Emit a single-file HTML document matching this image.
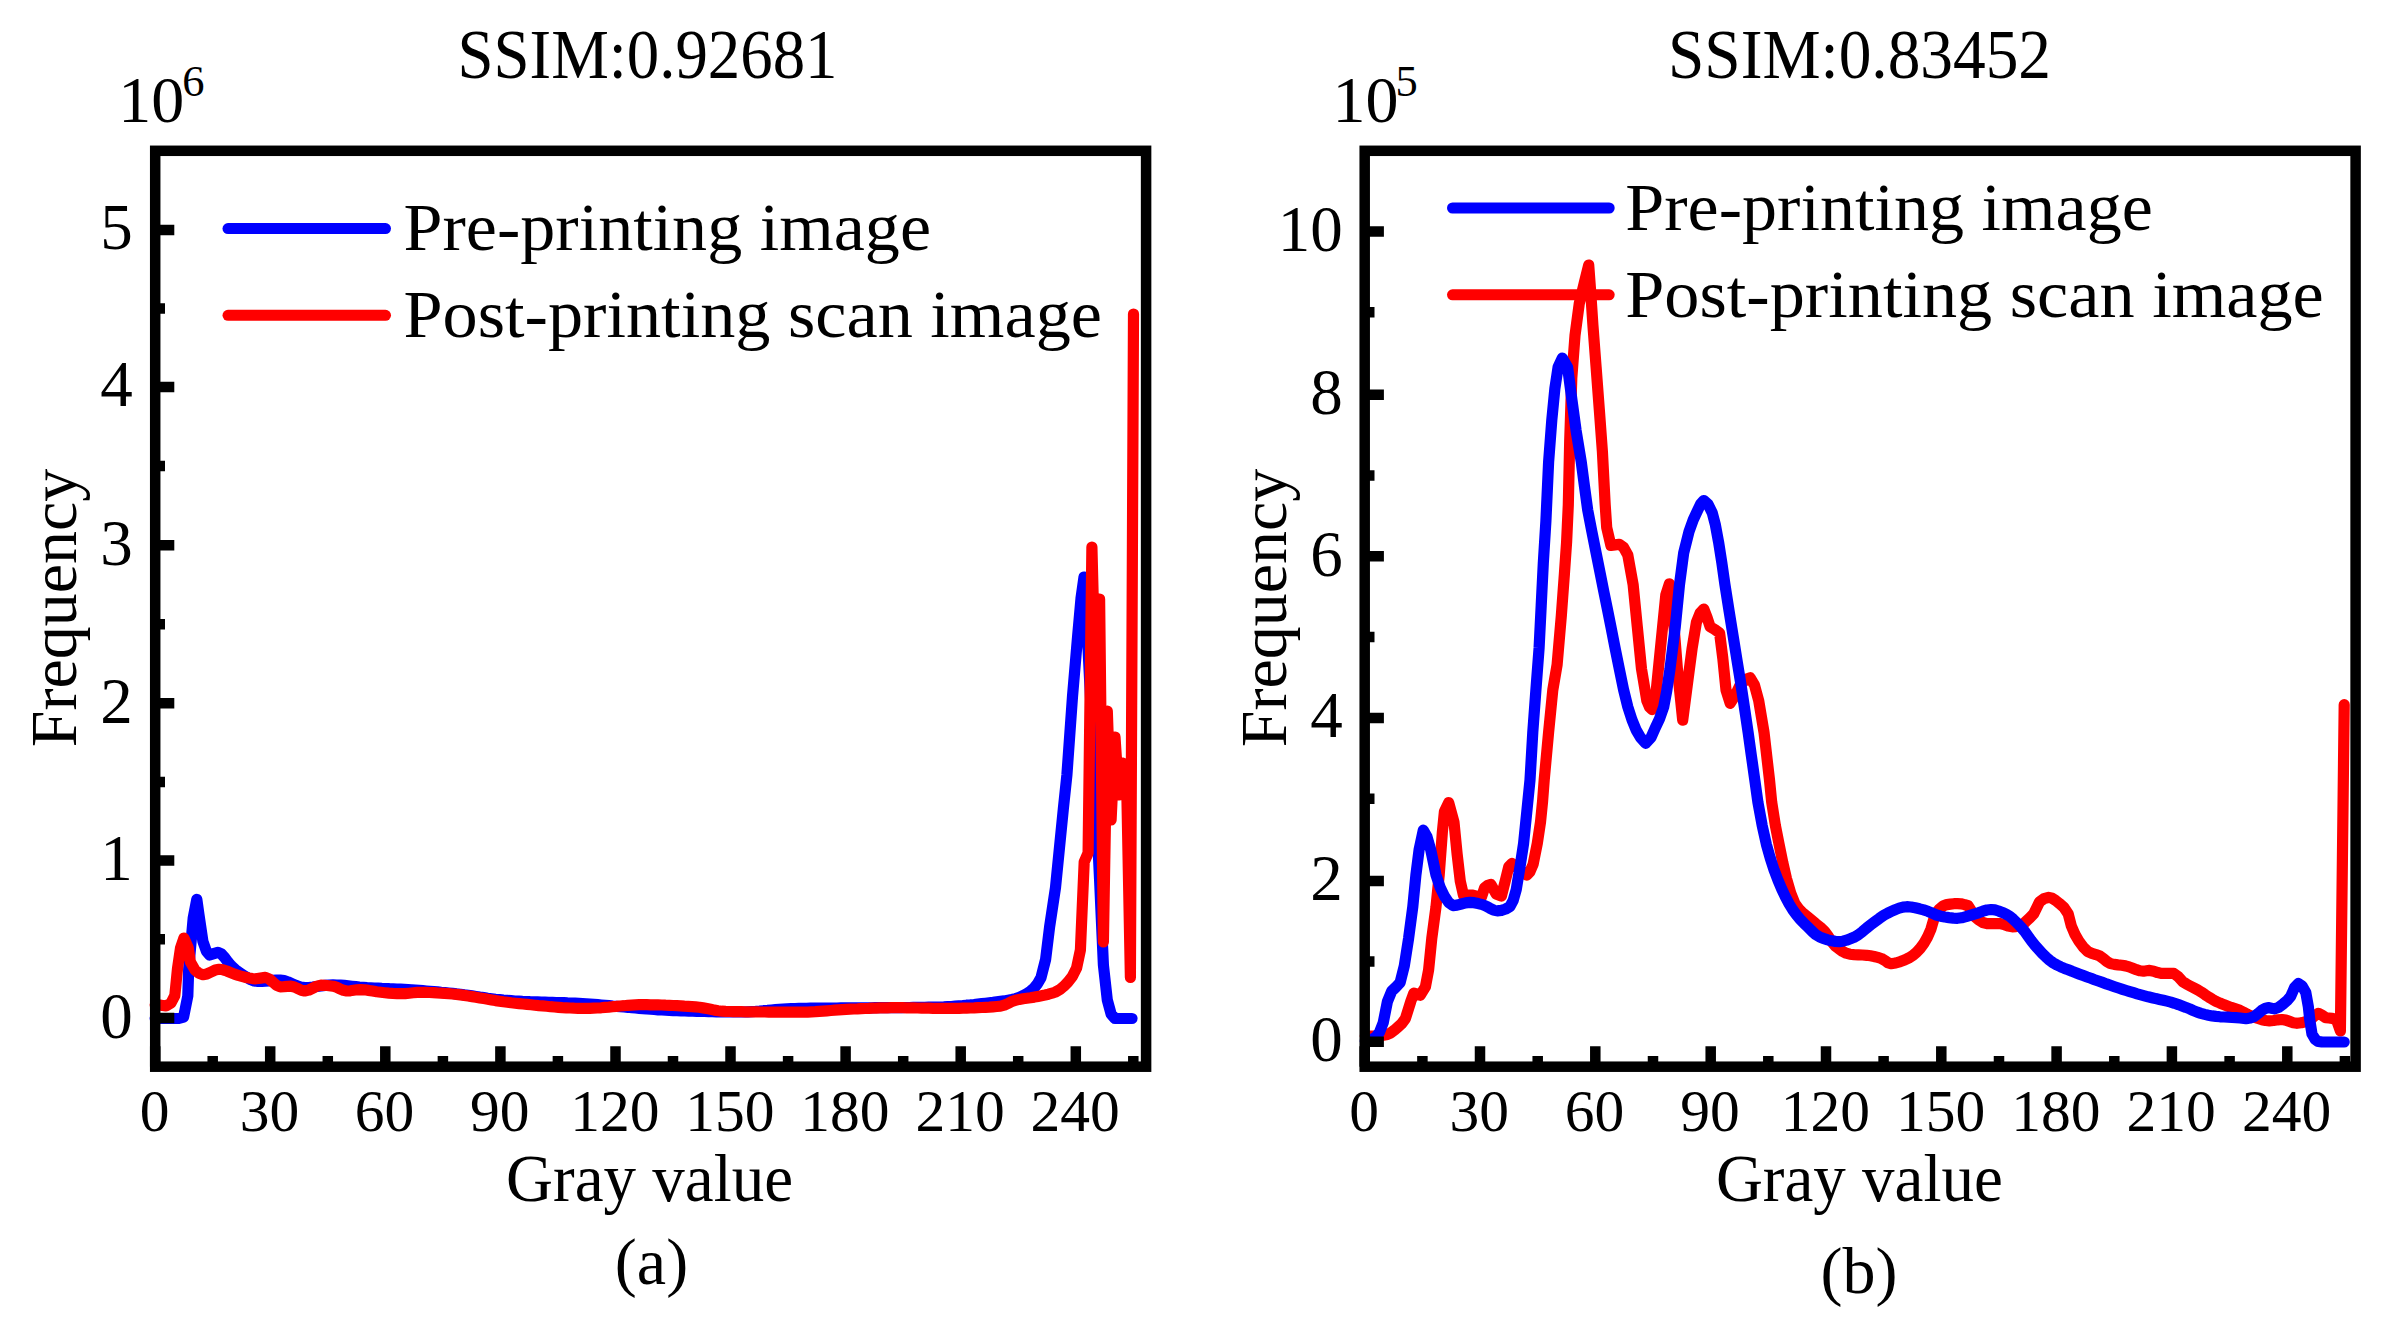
<!DOCTYPE html>
<html lang="en"><head><meta charset="utf-8"><title>SSIM histogram comparison</title>
<style>html,body{margin:0;padding:0;background:#fff}body{width:2394px;height:1326px;overflow:hidden}svg{display:block}</style>
</head><body>
<svg width="2394" height="1326" viewBox="0 0 2394 1326" font-family='"Liberation Serif", "Times New Roman", Times, serif' fill="#000">
<rect width="2394" height="1326" fill="#fff"/>
<g id="plotA">
<polyline points="155.2,1018.5 159.0,1018.5 162.8,1018.5 166.6,1018.5 170.4,1018.5 174.2,1018.5 178.0,1018.5 183.6,1017.0 187.8,996.0 188.7,968.6 193.2,918.0 196.8,899.4 198.9,914.3 202.9,941.4 206.3,951.0 209.7,955.0 213.8,953.6 217.9,952.3 221.3,953.9 224.7,957.6 228.0,962.1 231.4,965.9 235.5,969.6 239.6,972.7 243.3,975.1 247.0,977.5 250.6,979.5 254.3,981.0 258.0,981.5 261.7,981.4 265.3,981.1 269.0,980.8 272.7,980.4 276.3,980.1 280.0,980.0 284.1,980.6 288.2,982.0 292.4,983.8 296.5,985.6 300.6,987.0 304.7,987.6 308.7,987.5 312.8,987.1 316.8,986.5 320.9,986.0 324.9,985.4 329.0,985.0 333.0,984.9 336.8,985.0 340.6,985.2 344.3,985.4 348.1,985.8 351.9,986.2 355.7,986.6 359.4,987.0 363.2,987.3 367.0,987.6 370.7,987.8 374.5,988.0 378.2,988.2 381.9,988.4 385.6,988.5 389.4,988.7 393.1,988.8 396.8,989.0 400.5,989.2 404.3,989.4 408.0,989.6 411.7,989.8 415.4,990.1 419.1,990.4 422.8,990.7 426.5,991.0 430.1,991.3 433.8,991.6 437.5,991.9 441.2,992.3 444.9,992.6 448.6,993.0 452.5,993.4 456.4,993.9 460.3,994.3 464.2,994.9 468.1,995.4 472.0,995.9 475.9,996.5 479.8,997.1 483.8,997.6 487.7,998.2 491.6,998.7 495.5,999.2 499.4,999.6 503.3,1000.1 507.2,1000.4 511.1,1000.7 515.0,1001.0 518.8,1001.2 522.5,1001.4 526.2,1001.5 530.0,1001.7 533.8,1001.8 537.5,1001.9 541.2,1002.1 545.0,1002.2 548.8,1002.3 552.5,1002.4 556.2,1002.5 560.0,1002.6 563.8,1002.7 567.5,1002.9 571.2,1003.0 575.0,1003.2 578.8,1003.4 582.6,1003.6 586.3,1003.8 590.1,1004.1 593.9,1004.4 597.7,1004.7 601.4,1005.0 605.2,1005.3 609.0,1005.6 612.8,1006.0 616.6,1006.3 620.3,1006.6 624.1,1007.0 627.9,1007.3 631.7,1007.7 635.4,1008.0 639.2,1008.3 643.0,1008.6 646.8,1009.0 650.6,1009.2 654.3,1009.5 658.1,1009.8 661.9,1010.0 665.7,1010.2 669.4,1010.4 673.2,1010.6 677.0,1010.7 680.9,1010.8 684.9,1010.9 688.8,1011.1 692.8,1011.2 696.7,1011.3 700.6,1011.4 704.6,1011.5 708.5,1011.6 712.4,1011.7 716.4,1011.8 720.3,1011.8 724.2,1011.9 728.2,1011.9 732.1,1012.0 736.1,1012.0 740.0,1012.0 743.9,1012.0 747.9,1011.8 751.8,1011.6 755.7,1011.4 759.6,1011.1 763.6,1010.7 767.5,1010.4 771.4,1010.0 775.4,1009.7 779.3,1009.4 783.2,1009.1 787.1,1008.8 791.1,1008.6 795.0,1008.5 798.8,1008.4 802.6,1008.4 806.4,1008.3 810.3,1008.2 814.1,1008.2 817.9,1008.1 821.7,1008.1 825.5,1008.1 829.3,1008.0 833.2,1008.0 837.0,1008.0 840.8,1007.9 844.6,1007.9 848.4,1007.9 852.2,1007.9 856.1,1007.8 859.9,1007.8 863.7,1007.8 867.5,1007.8 871.3,1007.8 875.1,1007.7 878.9,1007.7 882.8,1007.7 886.6,1007.7 890.4,1007.6 894.2,1007.6 898.0,1007.6 901.8,1007.6 905.7,1007.5 909.5,1007.5 913.3,1007.4 917.1,1007.4 920.9,1007.3 924.7,1007.3 928.6,1007.2 932.4,1007.2 936.2,1007.1 940.0,1007.0 943.8,1006.9 947.6,1006.7 951.4,1006.5 955.2,1006.2 959.0,1005.9 962.8,1005.6 966.5,1005.2 970.3,1004.9 974.1,1004.5 977.9,1004.0 981.7,1003.6 985.5,1003.2 989.3,1002.8 993.0,1002.4 996.8,1001.9 1000.5,1001.4 1004.3,1000.9 1008.1,1000.2 1011.8,999.5 1015.6,998.6 1019.4,997.4 1023.1,995.7 1026.8,993.6 1030.6,991.0 1034.1,988.0 1037.5,983.7 1041.0,977.6 1045.6,959.5 1049.6,926.9 1055.5,887.6 1059.4,848.4 1063.3,809.2 1066.9,775.0 1072.5,696.5 1077.5,637.6 1081.0,598.4 1084.0,577.0 1088.1,650.0 1091.9,725.0 1095.8,800.0 1099.6,880.0 1103.4,965.0 1107.3,1000.0 1111.1,1014.0 1115.0,1018.5 1119.2,1018.5 1123.5,1018.5 1127.8,1018.5 1132.0,1018.5" fill="none" stroke="#0000ff" stroke-width="11.20" stroke-linejoin="round" stroke-linecap="round"/>
<polyline points="155.2,1005.0 160.9,1005.2 166.0,1006.0 171.0,1003.0 174.8,995.7 177.5,968.6 180.5,948.0 183.9,938.0 188.3,948.0 190.3,961.8 195.0,970.0 198.9,973.3 202.9,974.7 207.0,973.9 211.1,972.0 215.1,970.1 219.2,969.3 223.0,969.8 226.8,971.0 230.6,972.6 234.4,974.2 238.2,975.4 241.7,976.3 245.3,977.2 248.8,978.0 252.4,978.6 255.9,978.8 260.6,978.1 265.4,977.4 269.1,978.9 272.9,982.1 276.6,985.4 280.3,986.9 283.9,986.7 287.4,986.4 291.0,986.2 294.4,987.0 297.9,988.6 301.3,990.2 304.7,991.0 308.8,990.1 312.9,988.1 316.9,986.1 321.0,985.2 325.0,985.3 329.0,985.7 333.0,986.2 336.4,987.2 339.9,988.8 343.4,990.3 346.8,991.0 350.2,990.8 353.6,990.3 357.0,989.8 360.4,989.6 364.5,989.8 368.6,990.4 372.6,991.1 376.7,991.8 380.8,992.3 384.8,992.7 388.9,993.1 392.9,993.4 397.0,993.6 401.0,993.7 405.1,993.6 409.2,993.2 413.3,992.8 417.4,992.4 421.5,992.3 425.4,992.3 429.2,992.5 433.1,992.6 437.0,992.9 440.9,993.1 444.7,993.4 448.6,993.7 452.5,994.0 456.4,994.4 460.4,994.9 464.3,995.4 468.2,996.0 472.1,996.6 476.0,997.2 479.9,997.9 483.9,998.6 487.8,999.2 491.7,999.9 495.6,1000.6 499.5,1001.2 503.4,1001.8 507.4,1002.3 511.3,1002.8 515.2,1003.2 519.1,1003.6 523.1,1004.0 527.0,1004.4 530.9,1004.8 534.8,1005.2 538.8,1005.6 542.7,1005.9 546.6,1006.3 550.5,1006.7 554.5,1007.0 558.4,1007.3 562.3,1007.6 566.3,1007.8 570.2,1008.0 574.1,1008.2 578.0,1008.3 582.0,1008.4 585.9,1008.4 589.7,1008.4 593.5,1008.2 597.3,1008.0 601.1,1007.8 604.9,1007.4 608.7,1007.1 612.5,1006.7 616.4,1006.4 620.2,1006.0 624.0,1005.7 627.8,1005.3 631.6,1005.1 635.4,1004.9 639.2,1004.7 643.0,1004.7 646.8,1004.7 650.5,1004.8 654.3,1004.8 658.0,1004.9 661.8,1005.0 665.5,1005.2 669.3,1005.3 673.1,1005.5 676.8,1005.7 680.6,1005.9 684.3,1006.2 688.1,1006.4 691.8,1006.6 695.6,1006.9 699.4,1007.3 703.1,1007.9 706.9,1008.6 710.7,1009.3 714.4,1010.1 718.2,1010.7 721.9,1011.2 725.7,1011.4 729.6,1011.5 733.5,1011.6 737.4,1011.6 741.3,1011.7 745.3,1011.8 749.2,1011.8 753.1,1011.9 757.0,1011.9 760.9,1012.0 764.8,1012.0 768.7,1012.1 772.6,1012.1 776.5,1012.1 780.4,1012.1 784.4,1012.2 788.3,1012.2 792.2,1012.2 796.1,1012.2 800.0,1012.2 803.8,1012.2 807.7,1012.1 811.5,1011.9 815.4,1011.7 819.2,1011.4 823.1,1011.1 826.9,1010.8 830.8,1010.5 834.6,1010.2 838.5,1009.9 842.3,1009.6 846.2,1009.4 850.0,1009.2 853.8,1009.0 857.5,1008.9 861.2,1008.7 865.0,1008.5 868.8,1008.4 872.5,1008.2 876.2,1008.1 880.0,1007.9 883.8,1007.8 887.5,1007.8 891.2,1007.7 895.0,1007.7 898.8,1007.7 902.6,1007.7 906.4,1007.8 910.1,1007.8 913.9,1007.9 917.7,1008.0 921.5,1008.1 925.3,1008.1 929.1,1008.2 932.9,1008.3 936.6,1008.3 940.4,1008.4 944.2,1008.4 948.0,1008.4 951.8,1008.4 955.5,1008.4 959.2,1008.3 963.0,1008.2 966.8,1008.1 970.5,1008.0 974.2,1007.9 978.0,1007.7 981.8,1007.5 985.5,1007.3 989.2,1007.1 993.0,1006.8 996.8,1006.5 1000.5,1006.2 1004.3,1005.2 1008.0,1003.5 1011.8,1001.6 1015.6,1000.2 1019.3,999.4 1023.1,998.7 1026.8,998.2 1030.5,997.7 1034.3,997.1 1038.0,996.4 1041.5,995.7 1045.0,995.0 1048.5,994.2 1052.0,993.2 1055.5,992.0 1059.7,989.7 1063.8,986.3 1068.0,982.0 1072.3,976.6 1076.6,968.0 1080.4,950.0 1084.2,862.0 1088.1,853.0 1091.9,547.0 1095.8,700.0 1099.6,599.0 1103.4,942.0 1107.3,711.0 1111.1,820.0 1115.0,737.0 1118.8,795.0 1122.6,763.0 1126.5,775.0 1130.4,977.5 1133.5,314.0" fill="none" stroke="#ff0000" stroke-width="11.20" stroke-linejoin="round" stroke-linecap="round"/>
<path d="M155.2 1066.7V1046.2M270.2 1066.7V1046.2M385.3 1066.7V1046.2M500.4 1066.7V1046.2M615.5 1066.7V1046.2M730.5 1066.7V1046.2M845.6 1066.7V1046.2M960.7 1066.7V1046.2M1075.8 1066.7V1046.2M212.7 1066.7V1055.9M327.8 1066.7V1055.9M442.9 1066.7V1055.9M557.9 1066.7V1055.9M673.0 1066.7V1055.9M788.1 1066.7V1055.9M903.2 1066.7V1055.9M1018.2 1066.7V1055.9M1133.3 1066.7V1055.9M155.2 1018.1H174.3M155.2 860.5H174.3M155.2 703.3H174.3M155.2 545.3H174.3M155.2 386.9H174.3M155.2 229.9H174.3M155.2 939.3H165.0M155.2 781.9H165.0M155.2 624.3H165.0M155.2 466.1H165.0M155.2 308.4H165.0" stroke="#000" stroke-width="10.5" fill="none"/>
<rect x="155.2" y="150.8" width="990.9" height="915.9" fill="none" stroke="#000" stroke-width="10.5"/>
<path d="M228 228.6H385.5" stroke="#0000ff" stroke-width="11" stroke-linecap="round"/>
<path d="M228 315.3H385.5" stroke="#ff0000" stroke-width="11" stroke-linecap="round"/>
<text x="403.5" y="250.4" font-size="68.0" text-anchor="start" textLength="527.5" lengthAdjust="spacingAndGlyphs">Pre-printing image</text>
<text x="403.5" y="336.9" font-size="68.0" text-anchor="start" textLength="698.5" lengthAdjust="spacingAndGlyphs">Post-printing scan image</text>
<text x="647.5" y="77.5" font-size="69.0" text-anchor="middle" textLength="380" lengthAdjust="spacingAndGlyphs">SSIM:0.92681</text>
<text x="118.2" y="122.0" font-size="66.0" text-anchor="start" >10</text>
<text x="182.2" y="96.0" font-size="44.5" text-anchor="start" >6</text>
<text x="132.8" y="1037.6" font-size="65.0" text-anchor="end" >0</text>
<text x="132.8" y="880.0" font-size="65.0" text-anchor="end" >1</text>
<text x="132.8" y="722.8" font-size="65.0" text-anchor="end" >2</text>
<text x="132.8" y="564.8" font-size="65.0" text-anchor="end" >3</text>
<text x="132.8" y="406.4" font-size="65.0" text-anchor="end" >4</text>
<text x="132.8" y="249.4" font-size="65.0" text-anchor="end" >5</text>
<text x="154.5" y="1131.4" font-size="59.5" text-anchor="middle" >0</text>
<text x="269.5" y="1131.4" font-size="59.5" text-anchor="middle" >30</text>
<text x="384.6" y="1131.4" font-size="59.5" text-anchor="middle" >60</text>
<text x="499.7" y="1131.4" font-size="59.5" text-anchor="middle" >90</text>
<text x="614.8" y="1131.4" font-size="59.5" text-anchor="middle" >120</text>
<text x="729.8" y="1131.4" font-size="59.5" text-anchor="middle" >150</text>
<text x="844.9" y="1131.4" font-size="59.5" text-anchor="middle" >180</text>
<text x="960.0" y="1131.4" font-size="59.5" text-anchor="middle" >210</text>
<text x="1075.1" y="1131.4" font-size="59.5" text-anchor="middle" >240</text>
<text x="649.6" y="1200.5" font-size="68.0" text-anchor="middle" textLength="287" lengthAdjust="spacingAndGlyphs">Gray value</text>
<text x="651.5" y="1284.0" font-size="66.0" text-anchor="middle" >(a)</text>
<text transform="translate(76.2 608) rotate(-90)" font-size="66" text-anchor="middle">Frequency</text>
</g>
<g id="plotB">
<polyline points="1365.3,1036.0 1368.5,1036.0 1371.8,1036.0 1375.0,1036.0 1379.1,1035.8 1383.3,1035.2 1387.4,1034.4 1390.9,1032.8 1394.5,1030.1 1398.0,1027.0 1401.7,1023.6 1405.4,1018.6 1410.7,1001.7 1413.8,993.2 1417.0,994.2 1420.2,995.3 1425.4,986.9 1428.6,970.0 1431.8,938.3 1436.0,906.7 1439.2,875.0 1442.3,832.8 1444.4,811.7 1448.7,802.6 1454.0,822.2 1457.1,853.9 1460.3,881.3 1463.4,895.0 1467.7,895.0 1471.9,895.0 1476.7,896.1 1481.4,897.2 1484.6,887.7 1487.8,885.4 1490.9,884.5 1496.2,894.0 1501.4,896.1 1505.7,879.2 1508.8,866.6 1512.0,863.4 1516.0,865.9 1520.0,870.0 1523.4,873.2 1526.8,875.0 1529.9,871.8 1533.1,864.4 1537.3,843.3 1540.5,822.2 1542.6,801.1 1544.2,780.0 1548.6,732.2 1552.8,690.0 1557.1,664.7 1561.3,616.1 1564.4,573.9 1566.6,542.2 1568.3,505.0 1569.7,441.1 1571.8,377.8 1575.0,335.6 1579.2,303.9 1584.0,284.0 1588.7,265.0 1590.8,293.3 1592.9,325.0 1596.1,367.2 1599.3,409.5 1602.4,451.7 1605.2,505.0 1606.7,527.4 1610.9,545.4 1615.1,544.9 1619.3,544.3 1623.5,547.3 1627.8,554.9 1633.1,584.4 1637.3,626.7 1641.5,668.9 1646.8,700.6 1649.5,707.0 1652.1,709.6 1655.0,703.0 1658.4,668.9 1662.6,626.7 1665.8,595.0 1669.4,583.8 1673.5,620.0 1677.4,668.9 1682.7,720.2 1688.0,679.5 1692.2,647.8 1696.4,622.4 1700.1,613.1 1703.8,609.1 1706.9,617.0 1710.1,626.7 1714.8,629.5 1719.6,633.0 1722.8,658.3 1726.0,690.0 1730.2,703.3 1735.0,695.8 1739.7,685.8 1743.2,682.0 1746.7,679.0 1750.2,677.8 1754.5,685.1 1758.7,700.6 1764.0,732.2 1769.5,780.0 1771.7,802.2 1775.4,825.7 1779.1,844.4 1782.8,862.6 1786.4,878.2 1790.7,893.1 1794.9,903.6 1799.1,909.3 1803.3,913.4 1807.6,916.9 1811.8,920.4 1816.0,923.9 1820.2,927.1 1824.4,931.0 1827.9,935.8 1831.5,941.5 1835.0,945.8 1838.7,948.7 1842.4,951.3 1846.1,953.2 1849.8,954.2 1854.0,954.6 1858.2,954.8 1862.5,955.0 1866.7,955.3 1870.4,955.8 1874.1,956.5 1877.7,957.4 1881.4,958.5 1884.6,960.3 1887.8,962.6 1891.0,963.7 1895.7,963.0 1900.4,961.6 1904.6,960.0 1908.9,957.9 1913.1,955.3 1916.6,952.3 1920.2,948.4 1923.7,943.7 1927.3,937.4 1931.0,928.9 1935.3,914.1 1939.2,909.3 1943.0,906.1 1946.9,904.6 1950.4,904.1 1954.0,903.7 1957.5,903.6 1961.0,903.8 1964.5,904.6 1968.0,905.7 1971.2,910.5 1974.3,916.2 1978.5,919.8 1982.8,922.5 1987.0,923.6 1991.2,923.6 1995.5,923.6 1999.7,923.6 2003.9,924.4 2008.1,926.0 2012.3,926.8 2015.8,926.6 2019.4,925.8 2022.9,924.7 2026.0,921.4 2029.8,917.9 2033.6,913.9 2039.6,901.8 2044.1,898.6 2048.6,897.3 2052.1,898.2 2055.7,900.5 2059.2,903.3 2063.7,907.2 2068.2,913.9 2071.3,925.9 2075.1,934.7 2078.8,941.0 2083.4,947.3 2087.9,951.6 2091.9,953.4 2095.9,954.6 2099.9,956.1 2103.4,958.6 2107.0,961.6 2110.5,963.6 2114.2,964.4 2118.0,964.9 2121.8,965.3 2125.5,965.9 2129.1,966.9 2132.7,968.3 2136.4,969.7 2140.0,970.8 2143.6,971.2 2146.6,970.8 2149.7,970.4 2153.7,971.2 2157.7,972.6 2161.7,973.4 2165.7,973.4 2169.8,973.4 2173.8,973.4 2178.3,976.8 2182.8,981.7 2186.6,984.1 2190.4,986.1 2194.1,988.0 2197.9,990.0 2201.5,992.2 2205.1,994.7 2208.8,997.1 2212.4,999.3 2216.0,1001.3 2219.8,1003.0 2223.6,1004.6 2227.3,1006.0 2231.1,1007.4 2235.6,1008.9 2240.0,1010.4 2243.5,1012.2 2247.1,1014.2 2250.6,1015.8 2254.4,1017.2 2258.1,1018.5 2261.9,1019.7 2265.6,1020.5 2269.4,1020.8 2273.6,1020.5 2277.8,1019.8 2282.0,1019.5 2285.8,1020.1 2289.5,1021.4 2293.2,1022.7 2297.0,1023.3 2301.3,1022.8 2305.7,1021.6 2310.0,1020.0 2314.2,1016.2 2318.3,1013.3 2322.1,1015.3 2325.8,1017.7 2328.9,1018.0 2332.1,1018.3 2336.5,1020.0 2340.4,1031.0 2344.2,704.7" fill="none" stroke="#ff0000" stroke-width="11.20" stroke-linejoin="round" stroke-linecap="round"/>
<polyline points="1365.3,1041.0 1368.9,1040.5 1372.4,1039.1 1376.0,1037.0 1379.6,1032.0 1383.2,1022.8 1387.4,1001.7 1391.7,991.1 1395.9,987.1 1400.1,982.7 1404.3,965.8 1408.6,938.3 1412.8,906.7 1415.9,875.0 1419.1,849.7 1423.3,830.2 1427.0,836.8 1430.7,849.7 1436.0,875.0 1440.2,887.5 1444.4,896.1 1448.7,902.5 1452.9,905.6 1457.1,905.1 1461.3,904.0 1465.6,902.9 1469.8,902.4 1474.0,902.7 1478.2,903.6 1482.4,904.6 1486.1,906.1 1489.8,908.2 1493.5,910.1 1497.2,910.9 1501.4,910.4 1505.7,909.0 1509.9,906.7 1513.1,900.7 1516.2,889.8 1520.4,864.4 1523.6,843.3 1526.8,811.7 1530.0,780.0 1532.8,732.2 1535.9,690.0 1539.1,647.8 1541.2,605.6 1543.3,563.3 1545.9,521.1 1548.6,462.2 1551.8,420.0 1554.9,388.3 1558.1,367.2 1562.3,358.0 1567.6,367.2 1571.8,398.9 1576.1,430.6 1581.3,462.2 1584.5,486.6 1587.7,510.0 1591.9,531.7 1596.1,552.9 1600.3,573.9 1603.8,591.5 1607.4,609.1 1610.9,626.7 1615.1,648.1 1619.3,668.9 1623.5,689.3 1627.8,706.9 1632.0,719.9 1636.2,730.1 1640.5,737.5 1645.7,743.3 1651.0,737.5 1655.2,728.0 1659.5,718.8 1663.7,706.9 1666.8,690.5 1670.0,668.9 1675.3,626.7 1679.5,584.4 1683.7,552.8 1689.0,531.7 1693.2,519.9 1697.5,510.6 1700.7,504.0 1703.8,500.5 1708.0,504.2 1712.2,512.7 1715.4,524.9 1718.6,542.2 1721.8,562.5 1724.9,584.4 1729.1,611.1 1733.3,637.2 1737.5,663.4 1741.8,690.0 1744.9,710.7 1748.1,732.2 1751.4,755.9 1754.8,780.0 1757.9,802.2 1762.2,825.6 1766.4,844.4 1770.3,858.2 1774.1,870.1 1778.0,880.3 1781.7,889.0 1785.4,896.9 1789.1,903.9 1792.8,909.9 1796.5,914.9 1800.2,919.3 1803.9,923.2 1807.6,926.8 1811.8,931.0 1816.0,934.8 1820.2,937.3 1824.0,938.6 1827.8,939.8 1831.6,940.8 1835.4,941.4 1839.2,941.6 1842.9,941.2 1846.6,940.2 1850.3,938.8 1854.0,937.3 1858.2,934.9 1862.5,931.6 1866.7,928.0 1870.9,924.7 1875.1,921.5 1879.3,918.4 1883.6,915.4 1887.8,913.1 1891.6,911.3 1895.4,909.6 1899.2,908.1 1903.0,907.1 1906.8,906.7 1911.0,907.0 1915.2,907.8 1919.5,908.8 1923.7,909.9 1927.9,911.3 1932.2,913.2 1936.4,915.0 1940.6,916.2 1944.8,917.0 1949.0,917.6 1953.3,918.1 1957.5,918.3 1961.7,917.8 1965.9,916.7 1970.1,915.4 1974.3,914.1 1978.5,912.8 1982.8,911.2 1987.0,910.0 1991.2,909.5 1994.9,909.9 1998.6,911.0 2002.3,912.4 2006.0,914.1 2009.7,916.3 2013.4,919.4 2017.1,923.0 2020.8,926.8 2024.4,931.1 2027.9,936.0 2031.5,941.0 2035.1,945.5 2038.7,949.5 2042.3,953.5 2046.0,957.1 2049.6,960.3 2053.2,962.9 2057.0,965.0 2060.7,966.8 2064.5,968.4 2068.3,969.8 2072.0,971.3 2075.8,972.7 2079.6,974.2 2083.3,975.6 2087.1,977.0 2090.9,978.3 2094.6,979.7 2098.4,981.0 2102.4,982.4 2106.4,983.9 2110.4,985.3 2114.5,986.7 2118.5,988.0 2122.5,989.3 2126.2,990.5 2129.8,991.6 2133.5,992.7 2137.2,993.8 2140.9,994.8 2144.5,995.8 2148.2,996.8 2152.0,997.7 2155.7,998.6 2159.5,999.4 2163.3,1000.2 2167.0,1001.1 2170.8,1002.1 2174.6,1003.3 2178.4,1004.6 2182.1,1006.0 2185.9,1007.4 2189.7,1008.9 2193.4,1010.6 2197.2,1012.2 2200.9,1013.4 2204.7,1014.4 2208.4,1015.2 2212.2,1015.9 2216.0,1016.4 2220.0,1016.8 2224.0,1017.0 2228.0,1017.2 2232.0,1017.5 2236.0,1017.7 2240.0,1018.0 2246.0,1018.7 2250.2,1018.0 2254.4,1016.4 2258.2,1013.4 2261.9,1010.2 2265.1,1008.5 2268.2,1007.6 2271.3,1008.2 2274.5,1008.9 2278.8,1007.2 2283.2,1003.9 2286.9,1000.8 2290.7,996.4 2294.5,987.6 2298.3,983.6 2302.1,986.0 2305.8,992.6 2308.3,1006.4 2309.8,1020.2 2312.0,1034.0 2315.2,1039.4 2318.3,1041.5 2321.7,1041.9 2325.0,1042.0 2328.8,1042.0 2332.7,1042.0 2336.5,1042.0 2340.4,1042.0 2344.2,1042.0" fill="none" stroke="#0000ff" stroke-width="11.20" stroke-linejoin="round" stroke-linecap="round"/>
<path d="M1364.7 1066.7V1046.2M1480.0 1066.7V1046.2M1595.3 1066.7V1046.2M1710.7 1066.7V1046.2M1826.0 1066.7V1046.2M1941.3 1066.7V1046.2M2056.6 1066.7V1046.2M2171.9 1066.7V1046.2M2287.3 1066.7V1046.2M1422.4 1066.7V1055.9M1537.7 1066.7V1055.9M1653.0 1066.7V1055.9M1768.3 1066.7V1055.9M1883.6 1066.7V1055.9M1999.0 1066.7V1055.9M2114.3 1066.7V1055.9M2229.6 1066.7V1055.9M2344.9 1066.7V1055.9M1364.7 1041.8H1383.9M1364.7 880.9H1383.9M1364.7 717.9H1383.9M1364.7 556.2H1383.9M1364.7 394.8H1383.9M1364.7 231.6H1383.9M1364.7 961.4H1374.5M1364.7 798.8H1374.5M1364.7 637.1H1374.5M1364.7 475.4H1374.5M1364.7 312.3H1374.5" stroke="#000" stroke-width="10.5" fill="none"/>
<rect x="1364.7" y="150.8" width="990.9" height="915.9" fill="none" stroke="#000" stroke-width="10.5"/>
<path d="M1452.5 208H1609.2" stroke="#0000ff" stroke-width="11" stroke-linecap="round"/>
<path d="M1452.5 294.8H1609.2" stroke="#ff0000" stroke-width="11" stroke-linecap="round"/>
<text x="1625.3" y="230.4" font-size="68.0" text-anchor="start" textLength="527.5" lengthAdjust="spacingAndGlyphs">Pre-printing image</text>
<text x="1625.3" y="316.9" font-size="68.0" text-anchor="start" textLength="698.5" lengthAdjust="spacingAndGlyphs">Post-printing scan image</text>
<text x="1859.5" y="77.5" font-size="69.0" text-anchor="middle" textLength="383" lengthAdjust="spacingAndGlyphs">SSIM:0.83452</text>
<text x="1332.6" y="122.0" font-size="66.0" text-anchor="start" >10</text>
<text x="1395.5" y="96.0" font-size="44.5" text-anchor="start" >5</text>
<text x="1342.8" y="1061.3" font-size="65.0" text-anchor="end" >0</text>
<text x="1342.8" y="900.4" font-size="65.0" text-anchor="end" >2</text>
<text x="1342.8" y="737.4" font-size="65.0" text-anchor="end" >4</text>
<text x="1342.8" y="575.7" font-size="65.0" text-anchor="end" >6</text>
<text x="1342.8" y="414.3" font-size="65.0" text-anchor="end" >8</text>
<text x="1342.8" y="251.1" font-size="65.0" text-anchor="end" >10</text>
<text x="1364.0" y="1131.4" font-size="59.5" text-anchor="middle" >0</text>
<text x="1479.3" y="1131.4" font-size="59.5" text-anchor="middle" >30</text>
<text x="1594.6" y="1131.4" font-size="59.5" text-anchor="middle" >60</text>
<text x="1710.0" y="1131.4" font-size="59.5" text-anchor="middle" >90</text>
<text x="1825.3" y="1131.4" font-size="59.5" text-anchor="middle" >120</text>
<text x="1940.6" y="1131.4" font-size="59.5" text-anchor="middle" >150</text>
<text x="2055.9" y="1131.4" font-size="59.5" text-anchor="middle" >180</text>
<text x="2171.2" y="1131.4" font-size="59.5" text-anchor="middle" >210</text>
<text x="2286.6" y="1131.4" font-size="59.5" text-anchor="middle" >240</text>
<text x="1859.4" y="1200.5" font-size="68.0" text-anchor="middle" textLength="287" lengthAdjust="spacingAndGlyphs">Gray value</text>
<text x="1859.0" y="1293.0" font-size="66.0" text-anchor="middle" >(b)</text>
<text transform="translate(1286 608) rotate(-90)" font-size="66" text-anchor="middle">Frequency</text>
</g>
</svg>
</body></html>
